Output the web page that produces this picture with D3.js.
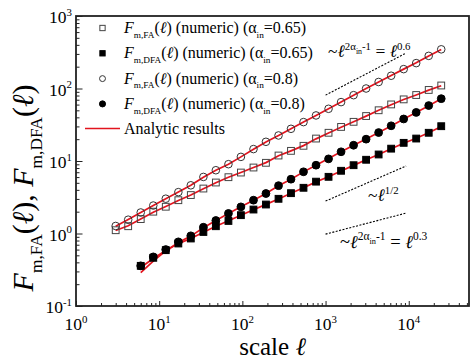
<!DOCTYPE html>
<html>
<head>
<meta charset="utf-8">
<script src="https://cdn.jsdelivr.net/npm/d3@7/dist/d3.min.js"></script>
<style>
  body { margin: 0; background: #fff; }
  svg text, svg tspan { font-family: "Liberation Serif", "Times New Roman", "DejaVu Serif", serif; fill: #000; }
</style>
</head>
<body>
<svg width="474" height="363" font-family="Liberation Serif, serif"></svg>
<script>
// scales (l) of the numeric points, sqrt(2) spacing
const scales = [3, 4.24, 6, 8.49, 12, 17, 24, 34, 48, 68, 96, 136, 192, 272, 384, 543,
  768, 1086, 1536, 2172, 3072, 4345, 6144, 8689, 12288, 17378, 24576];

// numeric F values
const faOpen065 = [1.11, 1.26, 1.58, 2.0, 2.34, 2.88, 3.39, 4.17, 5.05, 5.98, 6.93, 8.13, 9.44,
  11.9, 13.8, 16.2, 20.4, 24.5, 29.5, 34.7, 41.7, 50.1, 60.3, 70.8, 81.3, 95.5, 110];
const dfaFilled065 = [null, null, 0.358, 0.462, 0.589, 0.728, 0.853, 1.05, 1.26, 1.49, 1.79, 2.14,
  2.51, 3.01, 3.60, 4.27, 5.19, 6.05, 7.33, 8.75, 10.4, 12.3, 14.8, 17.8, 20.4, 24.5, 30.2];
const faOpen08 = [1.27, 1.55, 1.95, 2.43, 3.02, 3.72, 4.62, 6.03, 7.46, 9.04, 11.4, 14.6, 18.4,
  22.5, 27.8, 34.4, 42.5, 52.5, 64.9, 80.9, 100, 123, 150, 185, 224, 282, 347];
const dfaFilled08 = [null, null, 0.358, 0.476, 0.601, 0.767, 0.929, 1.22, 1.51, 1.89, 2.33, 2.88,
  3.56, 4.57, 5.61, 7.10, 8.75, 10.7, 13.4, 16.5, 20.0, 24.7, 30.6, 38.0, 46.8, 58.2, 72.4];

// analytic curves
const anFA065 = [1.10, 1.28, 1.58, 1.97, 2.36, 2.86, 3.40, 4.15, 5.02, 5.96, 6.95, 8.15, 9.50,
  11.8, 13.8, 16.3, 20.2, 24.4, 29.3, 34.8, 41.6, 50.0, 59.8, 70.5, 81.5, 95.0, 109];
const anDFA065 = [null, null, 0.339, 0.452, 0.582, 0.725, 0.855, 1.04, 1.26, 1.50, 1.79, 2.13,
  2.52, 3.00, 3.60, 4.28, 5.15, 6.07, 7.30, 8.70, 10.4, 12.3, 14.8, 17.6, 20.6, 24.6, 30.0];
const anFA08 = [1.26, 1.56, 1.95, 2.43, 3.01, 3.73, 4.63, 5.95, 7.45, 9.05, 11.4, 14.5, 18.3,
  22.5, 27.8, 34.4, 42.5, 52.5, 65.0, 81.0, 100, 123, 151, 185, 226, 281, 345];
const anDFA08 = [null, null, 0.288, 0.417, 0.575, 0.750, 0.920, 1.20, 1.51, 1.89, 2.33, 2.88,
  3.57, 4.55, 5.62, 7.08, 8.75, 10.8, 13.4, 16.5, 20.1, 24.7, 30.5, 38.0, 46.8, 58.0, 72.0];

const xMajor = [1, 10, 100, 1000, 10000];
const xExp = ['0', '1', '2', '3', '4'];
const yMajor = [0.1, 1, 10, 100, 1000];
const yExp = ['-1', '0', '1', '2', '3'];

// guide lines: [l start, l end, F start, exponent]
const guides = [[1000, 9300, 81, 0.6], [1000, 9300, 2.8, 0.5], [1000, 9300, 0.98, 0.3]];

const svg = d3.select('svg');
const margin = { top: 16, right: 5, bottom: 57, left: 76 };
const W = 474, H = 363;

const x = d3.scaleLog().domain([1, 5.3e4]).range([margin.left, W - margin.right]);
const y = d3.scaleLog().domain([0.1, 1000]).range([H - margin.bottom, margin.top]);

// rich text helper: parts = [text, kind]
function rich(sel, parts, size) {
  let cur = 0;
  parts.forEach(([t, k]) => {
    let fs = size, off = 0, it = false;
    if (k === 'i') it = true;
    if (k === 'sup') { fs = size * 0.62; off = -size * 0.42; }
    if (k === 'sub') { fs = size * 0.58; off = size * 0.3; }
    if (k === 'supsub') { fs = size * 0.45; off = -size * 0.2; }
    const ts = sel.append('tspan').text(t)
      .attr('font-size', fs)
      .attr('dy', off - cur);
    if (it) ts.attr('font-style', 'italic');
    cur = off;
  });
}

/* minor ticks */
const minors = (lo, hi) => {
  const out = [];
  for (let e = Math.floor(Math.log10(lo)); e <= Math.ceil(Math.log10(hi)); e++) {
    for (let m = 2; m <= 9; m++) {
      const v = m * Math.pow(10, e);
      if (v > lo && v < hi) out.push(v);
    }
  }
  return out;
};

const gx = svg.append('g').attr('transform', `translate(0,${H - margin.bottom})`);
gx.call(d3.axisBottom(x).tickValues(minors(1, 5.3e4)).tickSize(-3).tickFormat(''));
gx.append('g').call(d3.axisBottom(x).tickValues(xMajor).tickSize(-5).tickFormat(''));
gx.selectAll('.domain').remove();
gx.selectAll('line').attr('stroke', '#222');

const gy = svg.append('g').attr('transform', `translate(${margin.left},0)`);
gy.call(d3.axisLeft(y).tickValues(minors(0.1, 1000)).tickSize(-3.5).tickFormat(''));
gy.append('g').call(d3.axisLeft(y).tickValues(yMajor).tickSize(-6.5).tickFormat(''));
gy.selectAll('.domain').remove();
gy.selectAll('line').attr('stroke', '#222');

// tick labels
xMajor.forEach((v, i) => {
  const t = svg.append('text').attr('x', x(v)).attr('y', H - margin.bottom + 24)
    .attr('text-anchor', 'middle').attr('font-size', 17.5);
  rich(t, [['10', ''], [xExp[i], 'sup']], 17.5);
});
yMajor.forEach((v, i) => {
  const t = svg.append('text').attr('x', margin.left - 4).attr('y', y(v) + 7)
    .attr('text-anchor', 'end').attr('font-size', 17.5);
  rich(t, [['10', ''], [yExp[i], 'sup']], 17.5);
});

// frame
svg.append('rect')
  .attr('x', margin.left).attr('y', margin.top)
  .attr('width', W - margin.left - margin.right).attr('height', H - margin.top - margin.bottom)
  .attr('fill', 'none').attr('stroke', '#222').attr('stroke-width', 1.8);

/* guide lines */
svg.append('g').selectAll('line').data(guides).enter().append('line')
  .attr('x1', d => x(d[0])).attr('y1', d => y(d[2]))
  .attr('x2', d => x(d[1])).attr('y2', d => y(d[2] * Math.pow(d[1] / d[0], d[3])))
  .attr('stroke', '#000').attr('stroke-width', 1.1).attr('stroke-dasharray', '2,1.5');

/* analytic lines */
const line = d3.line()
  .defined(d => d[1] != null)
  .x(d => x(d[0])).y(d => y(d[1]));
[anFA065, anDFA065, anFA08, anDFA08].forEach(arr => {
  svg.append('path').datum(scales.map((s, i) => [s, arr[i]]))
    .attr('d', line).attr('fill', 'none').attr('stroke', '#e2141e').attr('stroke-width', 1.7);
});

/* markers */
const series = [
  { vals: faOpen065, shape: 'square', filled: false },
  { vals: dfaFilled065, shape: 'square', filled: true },
  { vals: faOpen08, shape: 'circle', filled: false },
  { vals: dfaFilled08, shape: 'circle', filled: true }
];
function drawMarker(g, shape, filled, cx, cy, sz) {
  if (shape === 'square') {
    const h = 3.4 * sz;
    g.append('rect').attr('x', cx - h).attr('y', cy - h).attr('width', 2 * h).attr('height', 2 * h)
      .attr('fill', filled ? '#000' : 'none').attr('stroke', filled ? '#000' : '#444').attr('stroke-width', 1);
  } else {
    g.append('circle').attr('cx', cx).attr('cy', cy).attr('r', (filled ? 3.9 : 3.8) * sz)
      .attr('fill', filled ? '#000' : 'none').attr('stroke', filled ? '#000' : '#333').attr('stroke-width', 1);
  }
}
const gm = svg.append('g');
series.forEach(s => {
  scales.forEach((l, i) => {
    if (s.vals[i] == null) return;
    drawMarker(gm, s.shape, s.filled, x(l), y(s.vals[i]), 1);
  });
});

/* legend */
const legendLabels = [['FA', '0.65'], ['DFA', '0.65'], ['FA', '0.8'], ['DFA', '0.8']];
const lg = svg.append('g');
series.forEach((s, i) => {
  const yy = 28 + i * 25.3;
  drawMarker(lg, s.shape, s.filled, 102.5, yy, 0.78);
  const t = lg.append('text').attr('x', 124).attr('y', yy + 5).attr('font-size', 16);
  rich(t, [['F', 'i'], ['m,' + legendLabels[i][0], 'sub'], ['(', ''], ['\u2113', 'i'],
    [') (numeric) (\u03b1', ''], ['in', 'sub'], ['=' + legendLabels[i][1] + ')', '']], 16);
});
lg.append('line').attr('x1', 85).attr('x2', 120).attr('y1', 128.5).attr('y2', 128.5)
  .attr('stroke', '#e2141e').attr('stroke-width', 1.6);
lg.append('text').attr('x', 124).attr('y', 133.5).attr('font-size', 16).text('Analytic results');

/* annotations */
const a1 = svg.append('text').attr('x', 328).attr('y', 57).attr('font-size', 17.5);
rich(a1, [['~', ''], ['\u2113', 'i'], ['2\u03b1', 'sup'], ['in', 'supsub'], ['-1', 'sup'],
  [' = ', ''], ['\u2113', 'i'], ['0.6', 'sup']], 17.5);
const a2 = svg.append('text').attr('x', 368).attr('y', 201).attr('font-size', 17.5);
rich(a2, [['~', ''], ['\u2113', 'i'], ['1/2', 'sup']], 17.5);
const a3 = svg.append('text').attr('x', 340).attr('y', 248).attr('font-size', 18.5);
rich(a3, [['~', ''], ['\u2113', 'i'], ['2\u03b1', 'sup'], ['in', 'supsub'], ['-1', 'sup'],
  [' = ', ''], ['\u2113', 'i'], ['0.3', 'sup']], 18.5);

/* axis titles */
const xt = svg.append('text').attr('x', (margin.left + W - margin.right) / 2).attr('y', 355)
  .attr('text-anchor', 'middle').attr('font-size', 25);
rich(xt, [['scale ', ''], ['\u2113', 'i']], 25);

const yt = svg.append('text').attr('transform', 'translate(33,188) rotate(-90)')
  .attr('text-anchor', 'middle').attr('font-size', 30);
rich(yt, [['F', 'i'], ['m,FA', 'sub'], ['(', ''], ['\u2113', 'i'], ['), ', ''],
  ['F', 'i'], ['m,DFA', 'sub'], ['(', ''], ['\u2113', 'i'], [')', '']], 30);
</script>
</body>
</html>
